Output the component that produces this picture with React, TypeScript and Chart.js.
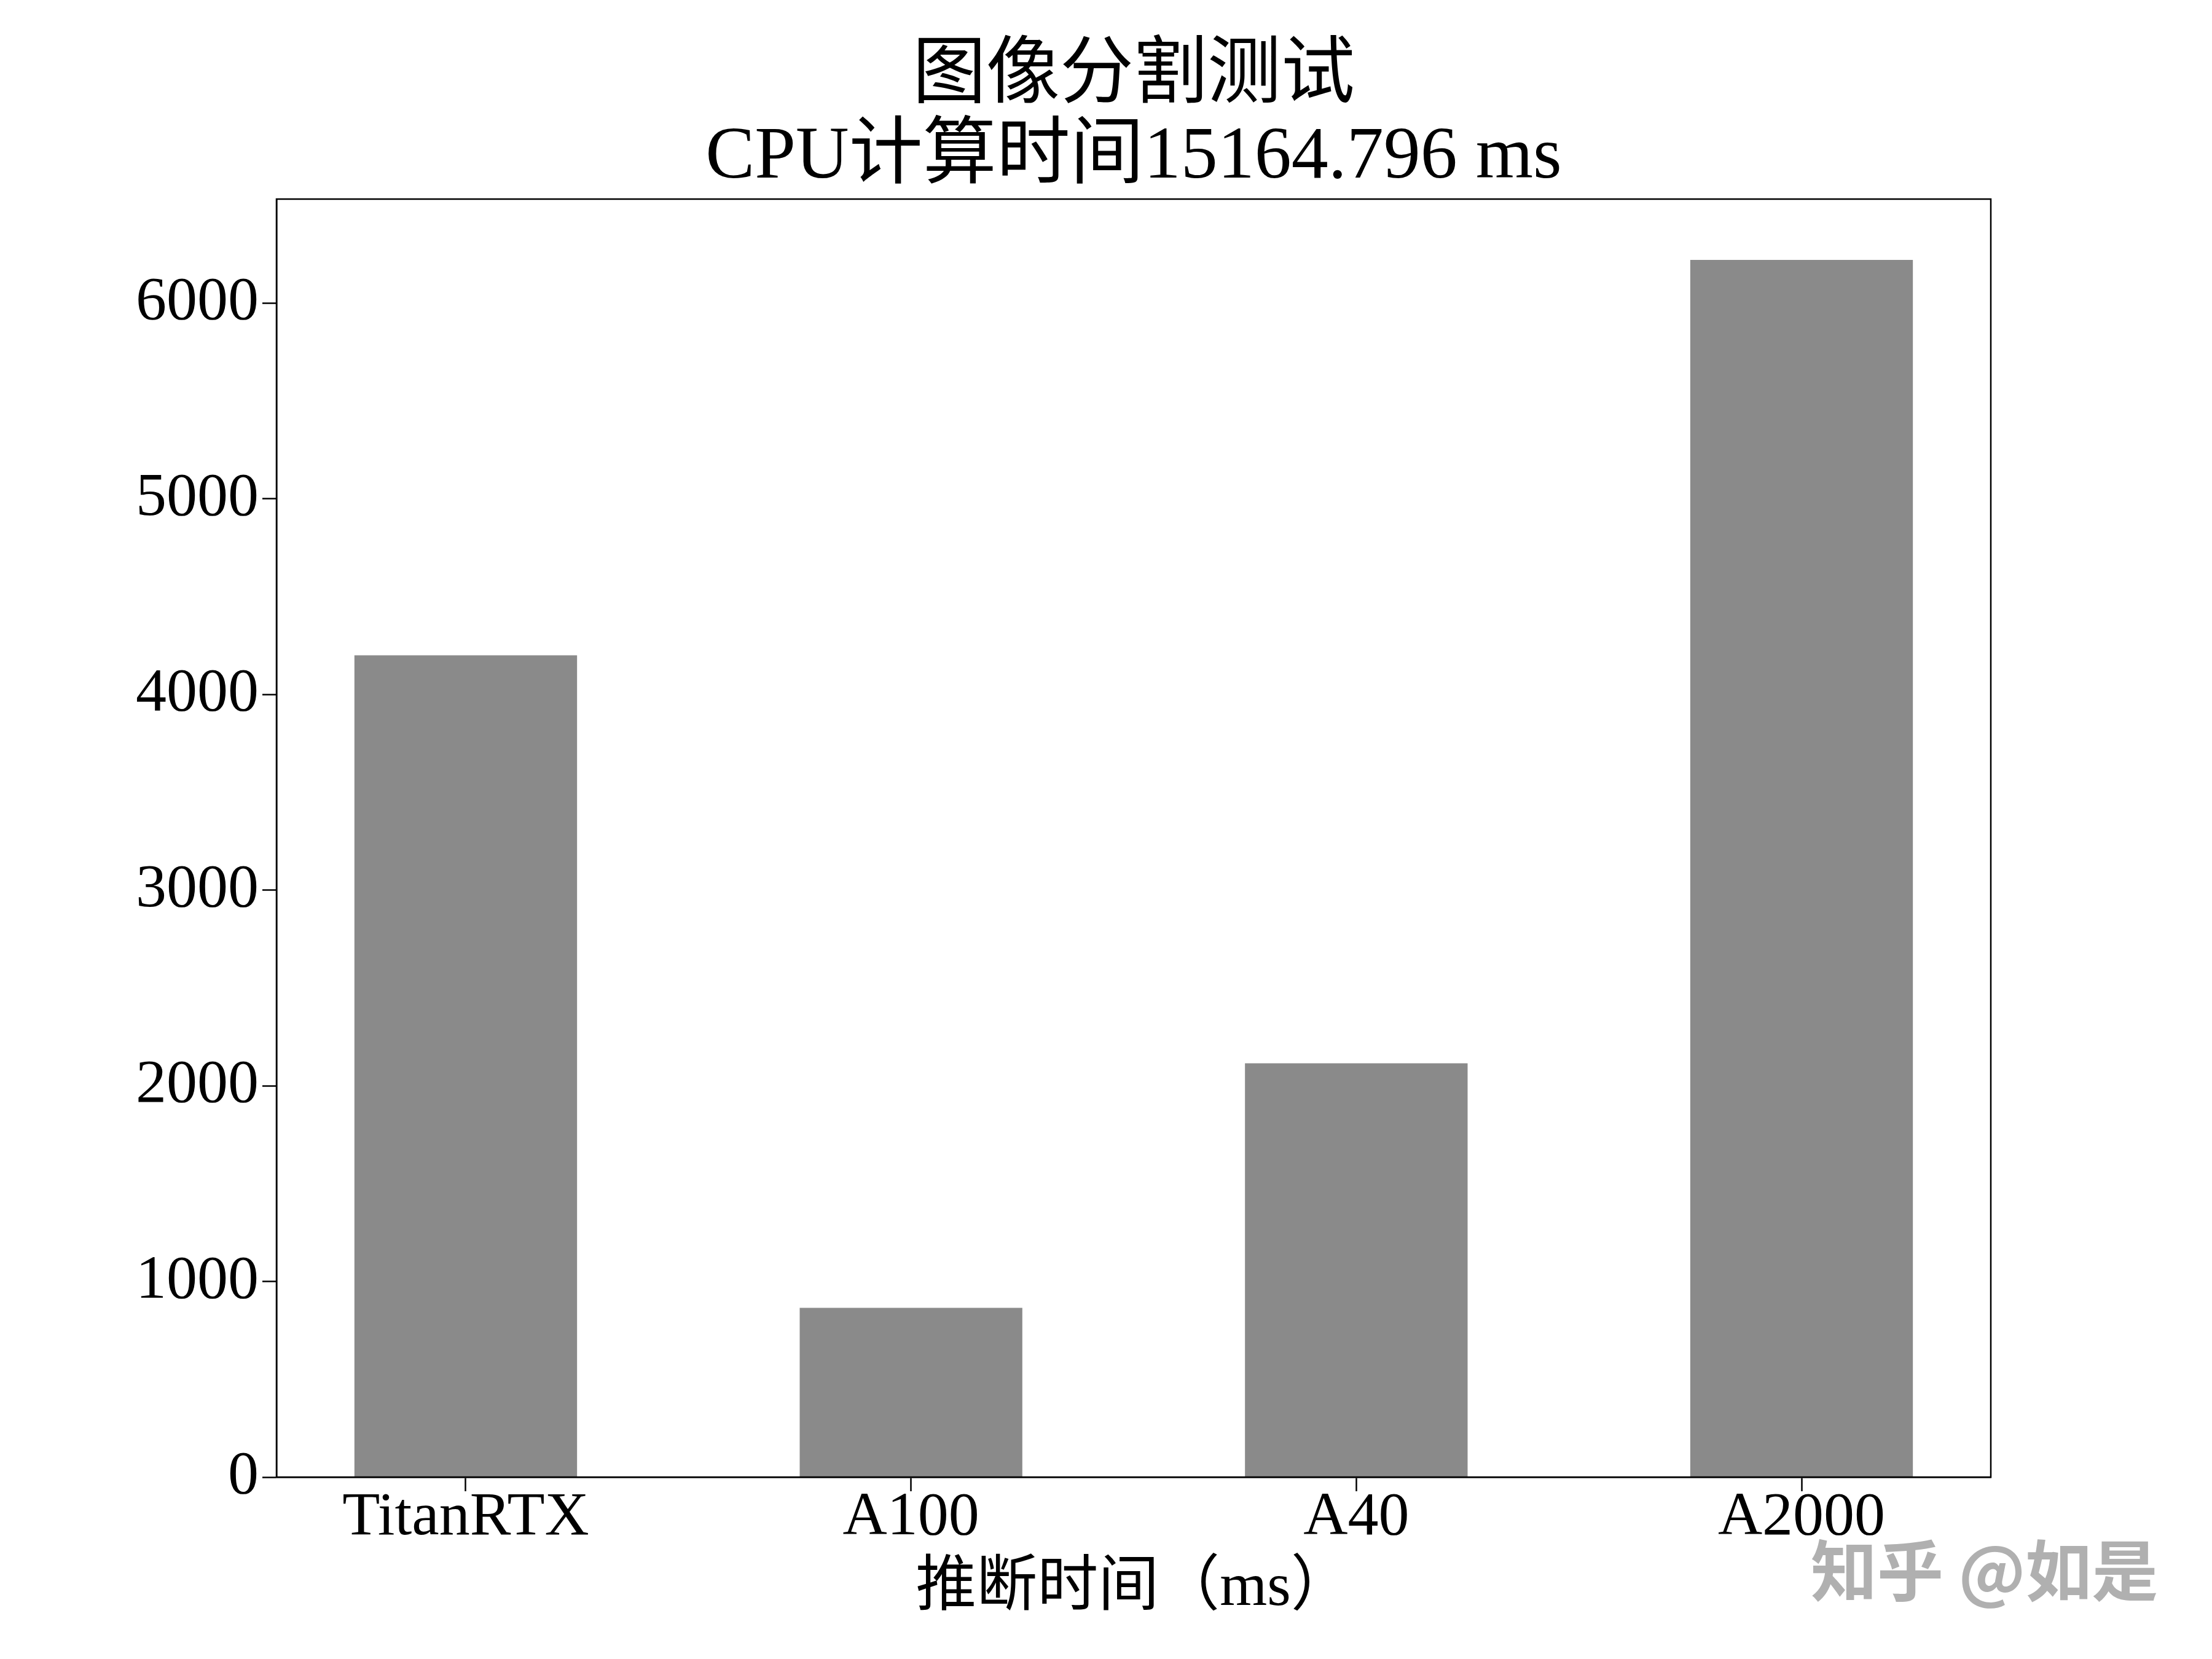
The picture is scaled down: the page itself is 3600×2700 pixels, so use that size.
import React, { useEffect, useRef } from "react";
import { Chart, registerables } from "chart.js";

Chart.register(...registerables);

const categories = ["TitanRTX", "A100", "A40", "A2000"];
const inferenceMs = [4200, 865, 2115, 6220];
const yTickValues = [0, 1000, 2000, 3000, 4000, 5000, 6000];
const titleLines = ["图像分割测试", "CPU计算时间15164.796 ms"];
const xAxisLabel = "推断时间（ms）";
const watermarkText = "知乎 @如是";

const W = 3600;
const H = 2700;
const FONT = "'Liberation Serif', 'Noto Sans CJK SC', serif";

const framePlugin = {
  id: "frame",
  afterDatasetsDraw(chart: any) {
    const { ctx, chartArea } = chart;
    ctx.save();
    ctx.strokeStyle = "#000";
    ctx.lineWidth = 2.5;
    ctx.strokeRect(chartArea.left, chartArea.top, chartArea.right - chartArea.left, chartArea.bottom - chartArea.top);
    ctx.restore();
  },
};

const titlePlugin = {
  id: "axesTitle",
  afterDraw(chart: any) {
    const { ctx, chartArea } = chart;
    const size = 120;
    const lh = 131;
    ctx.save();
    ctx.font = `${size}px ${FONT}`;
    ctx.fillStyle = "#000";
    ctx.textAlign = "center";
    ctx.textBaseline = "middle";
    const cx = (chartArea.left + chartArea.right) / 2;
    const last = chartArea.top - 67;
    titleLines.forEach((line, i) => {
      ctx.fillText(line, cx, last - (titleLines.length - 1 - i) * lh);
    });
    ctx.restore();
  },
};

const watermarkPlugin = {
  id: "watermark",
  afterDraw(chart: any) {
    const { ctx } = chart;
    ctx.save();
    ctx.font = "bold 108px 'Noto Sans CJK SC'";
    ctx.fillStyle = "#b0b0b0";
    ctx.textAlign = "left";
    ctx.textBaseline = "middle";
    ctx.fillText(watermarkText, chart.width * 0.8186, chart.height * 0.9467);
    ctx.restore();
  },
};

export default function App() {
  const ref = useRef<HTMLCanvasElement | null>(null);

  useEffect(() => {
    if (!ref.current) return;
    const n = categories.length;
    const pad = 0.05 * (n - 1 + 0.5);
    const yMax = Math.max(...inferenceMs) * 1.05;
    const chart = new Chart(ref.current, {
      type: "bar",
      data: {
        datasets: [
          {
            data: categories.map((_, i) => ({ x: i, y: inferenceMs[i] })),
            backgroundColor: "#8a8a8a",
            borderWidth: 0,
            barPercentage: 0.5,
            categoryPercentage: 1.0,
          },
        ],
      },
      plugins: [framePlugin, titlePlugin, watermarkPlugin],
      options: {
        responsive: false,
        animation: false,
        devicePixelRatio: 1,
        layout: { padding: { top: 324, right: 360, bottom: 0, left: 0 } },
        plugins: {
          legend: { display: false },
          tooltip: { enabled: false },
          title: { display: false },
        },
        scales: {
          x: {
            type: "linear",
            min: -0.25 - pad,
            max: n - 1 + 0.25 + pad,
            offset: false,
            afterBuildTicks: (scale: any) => {
              scale.ticks = categories.map((_, i) => ({ value: i }));
            },
            afterFit: (scale: any) => {
              scale.height = 296;
            },
            ticks: {
              autoSkip: false,
              maxRotation: 0,
              color: "#000",
              padding: -6,
              font: { family: FONT, size: 100, lineHeight: 1 },
              callback: (v: any) => categories[v as number] ?? "",
            },
            grid: {
              offset: false,
              drawOnChartArea: false,
              drawTicks: true,
              tickLength: 23,
              tickWidth: 2.5,
              tickColor: "#000",
            },
            border: { display: true, color: "#000", width: 2.5 },
            title: {
              display: true,
              text: xAxisLabel,
              color: "#000",
              font: { family: FONT, size: 99, lineHeight: 1.2 },
              padding: { top: 0, bottom: 55 },
            },
          },
          y: {
            type: "linear",
            min: 0,
            max: yMax,
            afterBuildTicks: (scale: any) => {
              scale.ticks = yTickValues.map((v) => ({ value: v }));
            },
            afterFit: (scale: any) => {
              scale.width = 450;
            },
            ticks: {
              color: "#000",
              padding: 6,
              font: { family: FONT, size: 100, lineHeight: 1.2 },
              callback: (v: any) => String(v),
            },
            grid: {
              drawOnChartArea: false,
              drawTicks: true,
              tickLength: 23,
              tickWidth: 2.5,
              tickColor: "#000",
            },
            border: { display: true, color: "#000", width: 2.5 },
          },
        },
      } as any,
    });
    return () => chart.destroy();
  }, []);

  return (
    <div style={{ position: "absolute", left: 0, top: 0, width: W, height: H, background: "#fff" }}>
      <canvas ref={ref} width={W} height={H} style={{ width: W, height: H, display: "block" }} />
    </div>
  );
}
